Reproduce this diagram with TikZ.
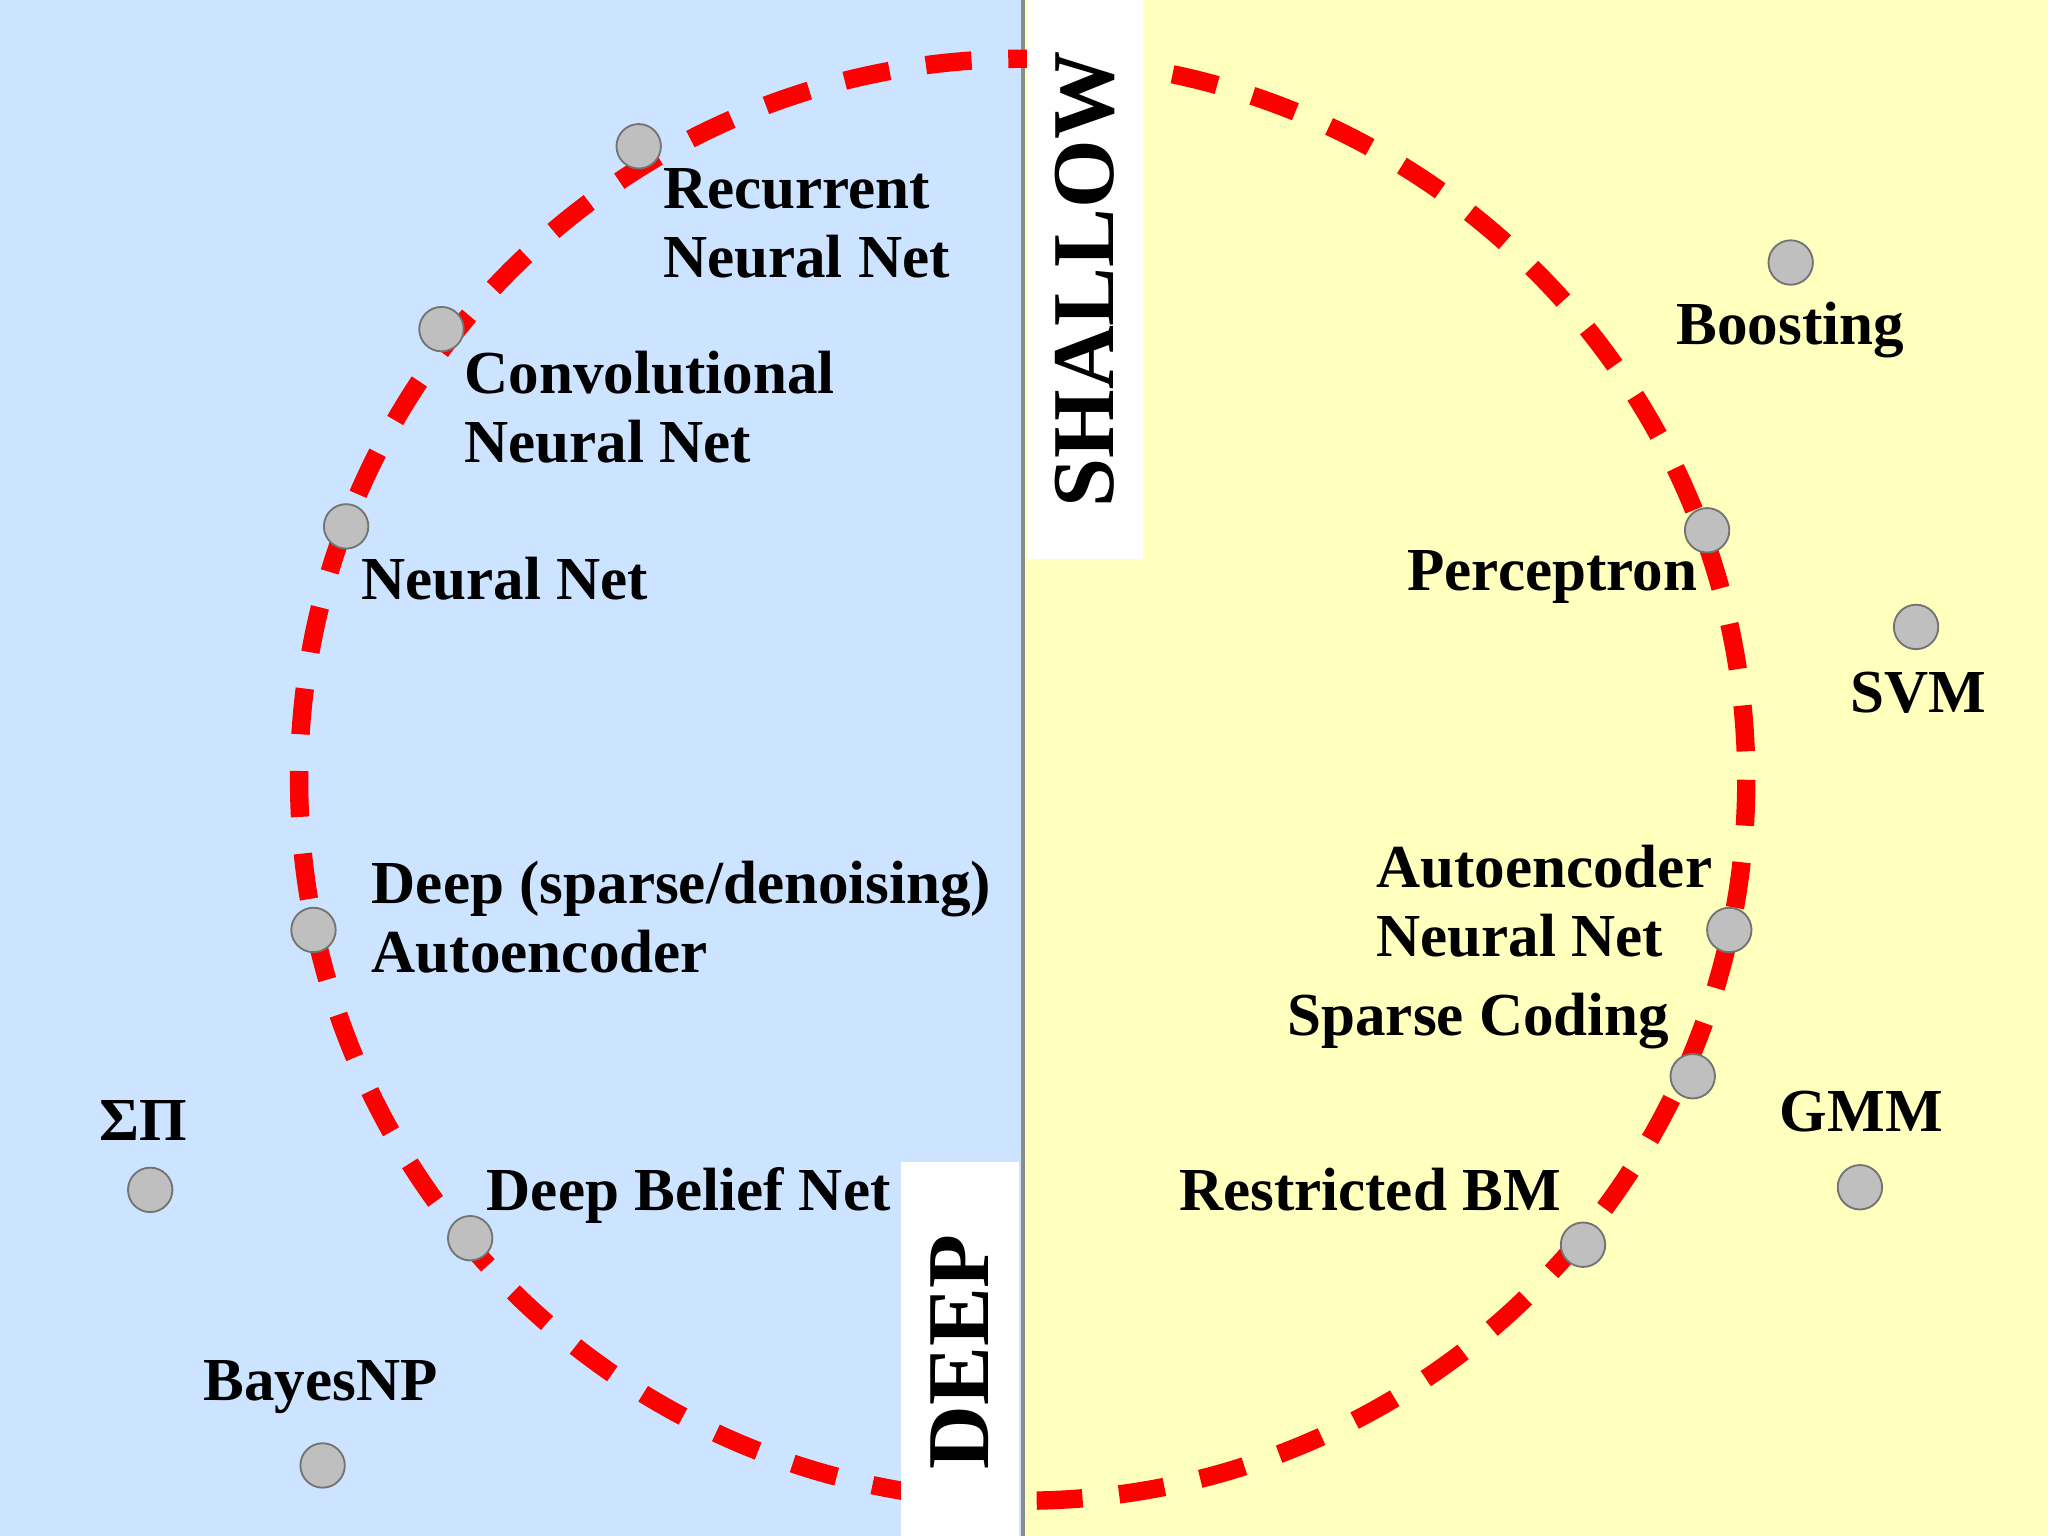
\documentclass[tikz,border=0pt]{standalone}
\usepackage{fontspec}
\setmainfont{Liberation Serif}
\begin{document}
\begin{tikzpicture}[x=0.01cm,y=-0.01cm,
  dot/.style={circle,draw=black!55,fill=black!25,line width=0.4pt,minimum size=0.34cm,inner sep=0},
  lbl/.style={font=\bfseries\fontsize{13.3}{15}\selectfont,inner sep=0,align=left},
  big/.style={font=\bfseries\fontsize{19.2}{22}\selectfont,inner sep=0,rotate=90}]
\useasboundingbox (0,0) rectangle (1568,1176);
\fill[fill={rgb,255:red,204;green,228;blue,255}] (0,0) rectangle (783,1176);
\fill[fill={rgb,255:red,255;green,255;blue,190}] (783,0) rectangle (1568,1176);
\draw[black!45,line width=0.8pt] (783,0) -- (783,1176);
\draw[red,line width=4pt,dash pattern=on 10pt off 8pt] (783,597) ellipse [x radius=554, y radius=552];
\fill[white] (786,0) rectangle (875,428);
\fill[white] (690,890) rectangle (780,1176);
\node[big] (shallow) at (831,214) {SHALLOW};
\node[big] (deep) at (735,1035) {DEEP};
\node[dot] (d1) at (489,112) {};
\node[dot] (d2) at (338,252) {};
\node[dot] (d3) at (265,403) {};
\node[dot] (d4) at (240,712) {};
\node[dot] (d5) at (360,948) {};
\node[dot] (d6) at (115,911) {};
\node[dot] (d7) at (247,1122) {};
\node[dot] (d8) at (1371,201) {};
\node[dot] (d9) at (1307,406) {};
\node[dot] (d10) at (1467,480) {};
\node[dot] (d11) at (1324,712) {};
\node[dot] (d12) at (1296,824) {};
\node[dot] (d13) at (1424,909) {};
\node[dot] (d14) at (1212,953) {};
\node[lbl,anchor=west] (l1) at (507,171) {Recurrent\\Neural Net};
\node[lbl,anchor=west] (l2) at (355,312) {Convolutional\\Neural Net};
\node[lbl,anchor=west] (l3) at (276,443) {Neural Net};
\node[lbl,anchor=west] (l4) at (284,702) {Deep (sparse/denoising)\\Autoencoder};
\node[lbl,anchor=west] (l5) at (372,915) {Deep Belief Net};
\node[lbl] (l6) at (110,858) {ΣΠ};
\node[lbl,anchor=west] (l7) at (155,1062) {BayesNP};
\node[lbl,anchor=west] (l8) at (1283,253) {Boosting};
\node[lbl,anchor=east] (l9) at (1300,442) {Perceptron};
\node[lbl] (l10) at (1469,530) {SVM};
\node[lbl,anchor=west] (l11) at (1053,690) {Autoencoder\\Neural Net};
\node[lbl,anchor=west] (l12) at (985,782) {Sparse Coding};
\node[lbl] (l13) at (1425,851) {GMM};
\node[lbl,anchor=west] (l14) at (902,911) {Restricted BM};
\end{tikzpicture}
\end{document}
